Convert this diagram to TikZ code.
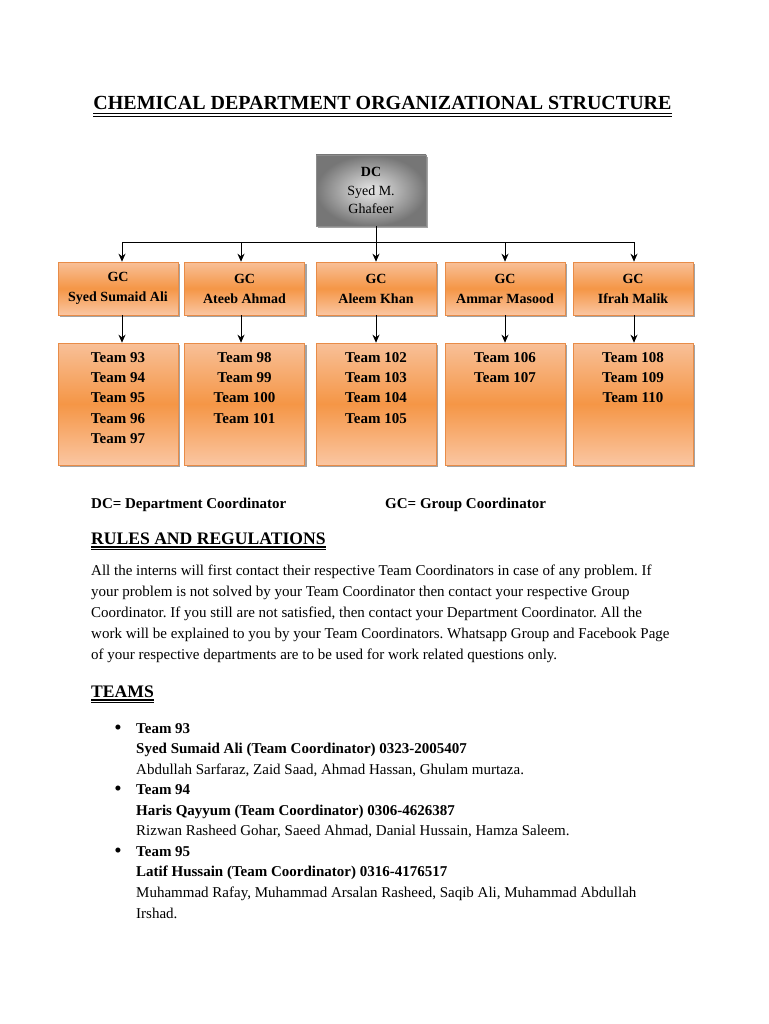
\documentclass[tikz,border=0pt]{standalone}
\usepackage{fontspec}
\setmainfont{Liberation Serif}
\usetikzlibrary{shadows,arrows.meta}
\definecolor{orTop}{RGB}{248,192,152}
\definecolor{orMid}{RGB}{245,150,70}
\definecolor{orBot}{RGB}{250,198,162}
\definecolor{orLine}{RGB}{232,140,72}
\definecolor{dcIn}{RGB}{232,232,232}
\definecolor{dcOut}{RGB}{118,118,118}
\begin{document}
\frenchspacing
\begin{tikzpicture}[x=1pt,y=-1pt,
  gcbox/.style={draw=orLine, line width=0.6pt, top color=orTop, bottom color=orBot, middle color=orMid,
    minimum width=120pt, minimum height=53pt, inner sep=0pt, align=center,
    font=\fontsize{14}{20}\selectfont\bfseries,
    drop shadow={shadow xshift=2pt,shadow yshift=-2pt,fill=black!60,opacity=0.6}},
  teambox/.style={draw=orLine, line width=0.6pt, top color=orTop, bottom color=orBot, middle color=orMid,
    minimum width=120pt, minimum height=122pt, inner sep=0pt,
    font=\fontsize{15}{20.4}\selectfont\bfseries,
    drop shadow={shadow xshift=2pt,shadow yshift=-2pt,fill=black!60,opacity=0.6}},
  dcbox/.style={draw=black!45, line width=0.6pt, inner color=dcIn, outer color=dcOut,
    minimum width=110pt, minimum height=71pt, inner sep=0pt, align=center,
    font=\fontsize{14}{18.5}\selectfont,
    drop shadow={shadow xshift=2pt,shadow yshift=-2pt,fill=black!60,opacity=0.6}},
  arr/.style={draw=black, line width=0.9pt, -{Stealth[length=8pt,width=7pt]}},
  txt/.style={anchor=base west, inner sep=0pt, font=\fontsize{15}{18}\selectfont},
  btxt/.style={txt, font=\fontsize{15}{18}\selectfont\bfseries},
  bul/.style={anchor=base, inner sep=0pt, font=\fontsize{21}{21}\selectfont},
  head/.style={anchor=base west, inner sep=0pt, font=\fontsize{17.6}{20}\selectfont\bfseries},
  ul/.style={draw=black},
]
\useasboundingbox[fill=white] (0,0) rectangle (768,1024);

% title
\node[anchor=base, inner sep=0pt, font=\fontsize{20}{24}\selectfont\bfseries] (title) at (382.5,110) {CHEMICAL DEPARTMENT ORGANIZATIONAL STRUCTURE};
\draw[ul, line width=1.4pt] ([yshift=-3.6pt]title.base west) -- ([yshift=-3.6pt]title.base east);
\draw[ul, line width=0.7pt] ([yshift=-6.2pt]title.base west) -- ([yshift=-6.2pt]title.base east);

% DC
\node[dcbox] (dc) at (371,190.5) {\textbf{DC}\\Syed M.\\Ghafeer};

% GC boxes
\node[gcbox] (gc1) at (118,288.5) {GC\\Syed Sumaid Ali};
\node[gcbox] (gc2) at (244.5,288.5) {GC\\Ateeb Ahmad};
\node[gcbox] (gc3) at (376,288.5) {GC\\Aleem Khan};
\node[gcbox] (gc4) at (505,288.5) {GC\\Ammar Masood};
\node[gcbox] (gc5) at (633,288.5) {GC\\Ifrah Malik};

% Team boxes
\newcommand{\teamlist}[1]{\parbox[c][122pt][t]{118pt}{\centering\rule{0pt}{19pt}#1}}
\node[teambox] (t1) at (118,404) {\teamlist{Team 93\\Team 94\\Team 95\\Team 96\\Team 97}};
\node[teambox] (t2) at (244.5,404) {\teamlist{Team 98\\Team 99\\Team 100\\Team 101}};
\node[teambox] (t3) at (376,404) {\teamlist{Team 102\\Team 103\\Team 104\\Team 105}};
\node[teambox] (t4) at (505,404) {\teamlist{Team 106\\Team 107}};
\node[teambox] (t5) at (633,404) {\teamlist{Team 108\\Team 109\\Team 110}};

% connectors
\draw[arr] ([xshift=5pt]dc.south) -- ++(0,16) -| ([xshift=4pt]gc1.north);
\draw[arr] ([xshift=5pt]dc.south) -- ++(0,16) -| ([xshift=-3.5pt]gc2.north);
\draw[arr] ([xshift=5pt]dc.south) -- (gc3.north);
\draw[arr] ([xshift=5pt]dc.south) -- ++(0,16) -| (gc4.north);
\draw[arr] ([xshift=5pt]dc.south) -- ++(0,16) -| ([xshift=1pt]gc5.north);
\draw[arr] ([xshift=4pt]gc1.south) -- ([xshift=4pt]t1.north);
\draw[arr] ([xshift=-3.5pt]gc2.south) -- ([xshift=-3.5pt]t2.north);
\draw[arr] (gc3.south) -- (t3.north);
\draw[arr] (gc4.south) -- (t4.north);
\draw[arr] ([xshift=1pt]gc5.south) -- ([xshift=1pt]t5.north);

% legend
\node[btxt] (leg1) at (91,508) {DC= Department Coordinator};
\node[btxt] (leg2) at (385,508) {GC= Group Coordinator};

% rules
\node[head] (rules) at (91,544) {RULES AND REGULATIONS};
\draw[ul, line width=1.3pt] ([yshift=-3pt]rules.base west) -- ([yshift=-3pt]rules.base east);
\draw[ul, line width=0.7pt] ([yshift=-5.4pt]rules.base west) -- ([yshift=-5.4pt]rules.base east);

\node[txt] (p1) at (91,575) {All the interns will first contact their respective Team Coordinators in case of any problem. If};
\node[txt] (p2) at (91,596) {your problem is not solved by your Team Coordinator then contact your respective Group};
\node[txt] (p3) at (91,617) {Coordinator. If you still are not satisfied, then contact your Department Coordinator. All the};
\node[txt] (p4) at (91,638) {work will be explained to you by your Team Coordinators. Whatsapp Group and Facebook Page};
\node[txt] (p5) at (91,659) {of your respective departments are to be used for work related questions only.};

% teams
\node[head] (teams) at (91,697) {TEAMS};
\draw[ul, line width=1.3pt] ([yshift=-3pt]teams.base west) -- ([yshift=-3pt]teams.base east);
\draw[ul, line width=0.7pt] ([yshift=-5.4pt]teams.base west) -- ([yshift=-5.4pt]teams.base east);

\node[bul] (b1) at (118,734) {\textbullet};
\node[btxt] (l1) at (136,733) {Team 93};
\node[btxt] (l2) at (136,753) {Syed Sumaid Ali (Team Coordinator) 0323-2005407};
\node[txt] (l3) at (136,774) {Abdullah Sarfaraz, Zaid Saad, Ahmad Hassan, Ghulam murtaza.};
\node[bul] (b2) at (118,795) {\textbullet};
\node[btxt] (l4) at (136,794) {Team 94};
\node[btxt] (l5) at (136,815) {Haris Qayyum (Team Coordinator) 0306-4626387};
\node[txt] (l6) at (136,835) {Rizwan Rasheed Gohar, Saeed Ahmad, Danial Hussain, Hamza Saleem.};
\node[bul] (b3) at (118,857) {\textbullet};
\node[btxt] (l7) at (136,856) {Team 95};
\node[btxt] (l8) at (136,876) {Latif Hussain (Team Coordinator) 0316-4176517};
\node[txt] (l9) at (136,897) {Muhammad Rafay, Muhammad Arsalan Rasheed, Saqib Ali, Muhammad Abdullah};
\node[txt] (l10) at (136,918) {Irshad.};
\end{tikzpicture}
\end{document}
